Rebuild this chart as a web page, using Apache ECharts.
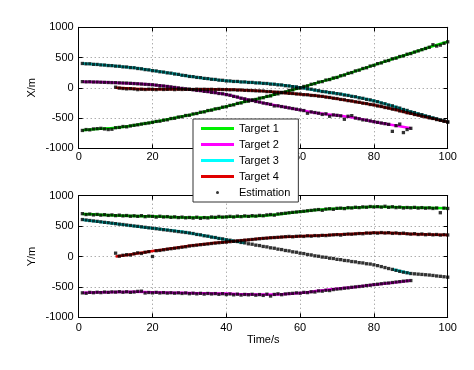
<!DOCTYPE html>
<html>
<head>
<meta charset="utf-8">
<script src="https://cdn.jsdelivr.net/npm/echarts@6/dist/echarts.min.js"></script>
<style>html,body{margin:0;padding:0;background:#fff}#c{width:474px;height:370px}</style>
</head>
<body>
<div id="c"></div>
<script>
// ---- Data ----
const names = ['Target 1', 'Target 2', 'Target 3', 'Target 4'];
const xTicks = [0, 20, 40, 60, 80, 100];
const yTicks = [-1000, -500, 0, 500, 1000];

// true-track key times
const tFull = [1,5,10,15,20,25,30,35,40,45,50,55,60,65,70,75,80,85,90,95,100];
const tT2 = [1,5,10,15,20,25,30,35,40,45,50,55,60,65,70,75,80,85,90];
const tT4 = [10,15,20,25,30,35,40,45,50,55,60,65,70,75,80,85,90,95,100];

// true tracks, X position
const trueX1 = [-700,-680,-660,-620,-570,-510,-450,-380,-310,-230,-160,-80,0,90,175,275,375,475,570,670,760];
const trueX2 = [100,95,85,70,50,15,-25,-65,-110,-185,-250,-310,-365,-420,-455,-500,-560,-615,-670];
const trueX3 = [400,385,360,330,285,240,190,150,115,95,75,45,5,-50,-95,-150,-215,-300,-395,-480,-565];
const trueX4 = [0,-15,-25,-25,-25,-25,-30,-40,-55,-80,-105,-135,-180,-230,-285,-350,-425,-495,-565];

// true tracks, Y position (null where the track is not visible in the figure)
const trueY1 = [700,690,675,665,660,650,640,640,650,660,670,700,735,770,790,805,820,815,805,800,795];
const trueY2 = [-595,-590,-585,-580,-590,-595,-600,-605,-610,-620,-625,-620,-600,-565,-530,-500,-465,-430,-395];
const trueY3 = [605,575,540,500,465,430,387,332,277,222,null,null,null,null,null,null,null,-210,-280,null,null];
const trueY4 = [0,40,90,130,175,210,240,270,300,320,335,345,360,375,390,385,370,360,355];

// estimation start times (one estimate per second)
const estStart = [1, 1, 1, 10];

// estimations, X
const estX1 = [-705,-690,-695,-680,-675,-670,-680,-690,-685,-660,
  -655,-640,-645,-630,-620,-612,-600,-590,-582,-570,
  -556,-552,-536,-529,-508,-504,-484,-479,-458,-454,
  -432,-425,-404,-398,-376,-370,-348,-342,-320,-314,
  -291,-282,-258,-251,-226,-221,-199,-193,-171,-164,
  -142,-134,-108,-100,-76,-68,-44,-34,-10,-4,
  22,32,58,68,94,102,128,136,162,171,
  199,211,239,251,279,291,319,331,359,371,
  399,411,439,451,479,490,517,528,555,566,
  590,610,630,650,670,712,690,705,735,760];
const estX2 = [102,98,100,96,95,92,90,88,86,85,
  82,80,78,74,70,66,62,58,54,50,
  44,36,30,22,15,6,-2,-10,-18,-25,
  -31,-43,-47,-59,-63,-76,-81,-94,-99,-112,
  -123,-142,-153,-172,-183,-200,-209,-226,-235,-252,
  -262,-274,-300,-298,-310,-321,-332,-343,-354,-365,
  -376,-420,-398,-409,-420,-440,-430,-470,-448,-455,
  -464,-520,-470,-460,-500,-512,-530,-536,-548,-560,
  -571,-582,-593,-604,-720,-626,-600,-740,-690,-670];
const estX3 = [402,396,397,388,386,378,376,368,366,358,
  356,346,344,334,331,319,314,301,296,283,
  278,265,260,247,242,228,222,208,202,188,
  184,172,168,156,152,141,138,127,124,113,
  113,105,105,97,97,89,89,81,81,73,
  71,61,59,49,47,35,31,19,15,3,
  -3,-17,-23,-37,-48,-61,-66,-79,-84,-97,
  -104,-119,-126,-141,-148,-165,-174,-191,-200,-217,
  -230,-251,-264,-285,-298,-321,-336,-359,-374,-397,
  -410,-431,-444,-465,-478,-499,-512,-533,-546,-567];
const estX4 = [10,-5,-12,-18,-14,-20,-30,-24,-28,-22,
  -25,-30,-20,-28,-26,-22,-30,-24,-28,-26,
  -25,-28,-22,-26,-24,-27,-25,-30,-26,-29,
  -30,-34,-32,-38,-36,-42,-44,-46,-50,-52,
  -53,-62,-62,-72,-72,-82,-83,-92,-94,-102,
  -103,-114,-116,-126,-128,-137,-142,-154,-160,-172,
  -178,-192,-198,-212,-218,-232,-239,-254,-261,-276,
  -283,-300,-309,-326,-335,-352,-363,-382,-393,-412,
  -423,-441,-451,-469,-479,-497,-507,-525,-535,-553,-563];

// estimations, Y
const estY1 = [705,690,698,684,692,680,688,676,684,672,
  680,668,674,662,670,660,672,655,665,660,
  648,662,650,656,644,652,640,648,636,642,
  632,646,628,640,634,650,644,658,648,652,
  660,650,664,656,668,660,672,664,676,670,
  684,690,680,700,706,712,720,726,732,738,
  744,752,758,766,772,760,780,786,776,792,
  796,788,804,798,810,804,816,810,822,814,
  820,812,826,808,818,804,812,798,806,800,
  808,796,804,794,800,790,798,720,796,790];
const estY2 = [-598,-605,-590,-596,-588,-594,-584,-590,-582,-586,
  -578,-588,-580,-590,-584,-574,-570,-600,-592,-598,
  -590,-600,-594,-602,-596,-604,-598,-608,-600,-612,
  -604,-614,-606,-618,-608,-616,-610,-622,-612,-626,
  -616,-630,-620,-634,-624,-630,-622,-636,-626,-640,
  -620,-650,-624,-614,-628,-616,-610,-606,-598,-604,
  -590,-594,-580,-584,-566,-570,-556,-560,-544,-536,
  -530,-522,-516,-506,-500,-494,-488,-478,-472,-462,
  -456,-448,-440,-436,-428,-420,-414,-406,-400,-396];
const estY3 = [608,600,592,585,578,570,562,556,548,540,
  532,526,518,510,502,496,488,480,472,465,
  457,450,441,434,426,418,410,402,395,387,
  378,363,356,341,334,319,312,297,290,275,
  268,253,246,231,224,209,202,187,180,165,
  158,143,136,121,114,99,92,77,70,55,
  48,33,26,11,4,-9,-14,-28,-33,-47,
  -52,-65,-70,-83,-88,-101,-106,-119,-124,-137,
  -150,-166,-182,-198,-212,-228,-244,-258,-268,-280,
  -285,-290,-295,-300,-305,-312,-320,-326,-333,-340];
const estY4 = [55,5,20,30,25,45,60,50,70,80,
  0,95,100,110,120,128,136,144,152,160,
  172,180,186,194,200,206,214,220,226,232,
  236,244,250,256,262,268,274,280,286,292,
  298,302,308,312,316,320,326,330,324,332,
  336,330,340,334,344,340,348,344,352,356,
  360,352,364,370,366,372,378,374,386,382,
  390,384,394,386,392,380,388,378,384,374,
  368,376,362,370,358,366,356,362,352,360,354];

// ---- Build ----
const colors = ['#00f000', '#ff00ff', '#00ffff', '#e00000'];
const FONT = '"Liberation Sans", Arial, sans-serif';
const pair = (ts, vs) => ts.map((t, i) => [t, vs[i] === null ? null : vs[i]]);
const estPairs = (arrs) => {
  const out = [];
  arrs.forEach((a, k) => a.forEach((v, i) => out.push([estStart[k] + i, v])));
  return out;
};
const trueTimes = [tFull, tT2, tFull, tT4];
const trueXs = [trueX1, trueX2, trueX3, trueX4];
const trueYs = [trueY1, trueY2, trueY3, trueY4];

const grids = [
  {left: 78.7, right: 26.3, top: 27.3, height: 121},
  {left: 78.7, right: 26.3, top: 195.7, height: 121.6}
];

const lbl = {color: '#000', fontSize: 11, fontFamily: FONT};
const gridLine = {color: '#8a8a8a', type: [1, 3], width: 1};
function xAx(g, pos, showLabel, margin) {
  return {
    type: 'value', gridIndex: g, position: pos, min: xTicks[0], max: xTicks[xTicks.length - 1], interval: xTicks[1] - xTicks[0],
    axisLine: {show: true, onZero: false, lineStyle: {color: '#000', width: 1}},
    axisTick: {show: true, inside: true, length: 4, lineStyle: {color: '#000'}},
    axisLabel: Object.assign({show: showLabel, margin: margin, formatter: v => String(v)}, lbl),
    splitLine: {show: showLabel, lineStyle: gridLine}
  };
}
function yAx(g, pos, showLabel) {
  return {
    type: 'value', gridIndex: g, position: pos, min: yTicks[0], max: yTicks[yTicks.length - 1], interval: yTicks[1] - yTicks[0],
    axisLine: {show: true, onZero: false, lineStyle: {color: '#000', width: 1}},
    axisTick: {show: true, inside: true, length: 4, lineStyle: {color: '#000'}},
    axisLabel: Object.assign({show: showLabel, margin: 5, formatter: v => String(v)}, lbl),
    splitLine: {show: showLabel, lineStyle: gridLine}
  };
}
const xAxes = [xAx(0, 'bottom', true, 3), xAx(0, 'top', false, 3), xAx(1, 'bottom', true, 5), xAx(1, 'top', false, 3)];
xAxes[2].name = 'Time/s';
xAxes[2].nameLocation = 'middle';
xAxes[2].nameGap = 17;
xAxes[2].nameMoveOverlap = false;
xAxes[2].nameTextStyle = lbl;
const yAxes = [yAx(0, 'left', true), yAx(0, 'right', false), yAx(1, 'left', true), yAx(1, 'right', false)];
yAxes[0].name = 'X/m'; yAxes[2].name = 'Y/m';
[0, 2].forEach(i => {
  yAxes[i].nameLocation = 'middle';
  yAxes[i].nameGap = 41;
  yAxes[i].nameMoveOverlap = false;
  yAxes[i].nameTextStyle = lbl;
});

const series = [];
[0, 1].forEach(g => {
  const trues = g === 0 ? trueXs : trueYs;
  names.forEach((n, k) => {
    series.push({
      type: 'line', name: n, xAxisIndex: g * 2, yAxisIndex: g * 2,
      data: pair(trueTimes[k], trues[k]), smooth: 0.4, showSymbol: false, connectNulls: false,
      color: colors[k], lineStyle: {width: 2.5, color: colors[k]}, z: 2, silent: true
    });
  });
  const ests = g === 0 ? [estX1, estX2, estX3, estX4] : [estY1, estY2, estY3, estY4];
  series.push({
    type: 'scatter', name: 'Estimation', xAxisIndex: g * 2, yAxisIndex: g * 2,
    data: estPairs(ests), symbol: 'rect', symbolSize: 3.3,
    color: '#000', itemStyle: {color: '#000'}, z: 3, silent: true
  });
});

const chart = echarts.init(document.getElementById('c'), null, {renderer: 'canvas'});
chart.setOption({
  animation: false,
  backgroundColor: '#fff',
  grid: grids,
  xAxis: xAxes,
  yAxis: yAxes,
  legend: {
    orient: 'vertical', left: 193, top: 119,
    data: names.map(n => ({name: n, icon: 'rect'})).concat([{name: 'Estimation', icon: 'circle'}]),
    itemWidth: 33, itemHeight: 3, itemGap: 5,
    padding: [4, 8, 4, 8],
    backgroundColor: '#fff', borderColor: '#333', borderWidth: 1, borderRadius: 0,
    textStyle: {color: '#000', fontSize: 11, fontFamily: FONT},
    selectedMode: false, z: 10
  },
  series: series
});
</script>
</body>
</html>
